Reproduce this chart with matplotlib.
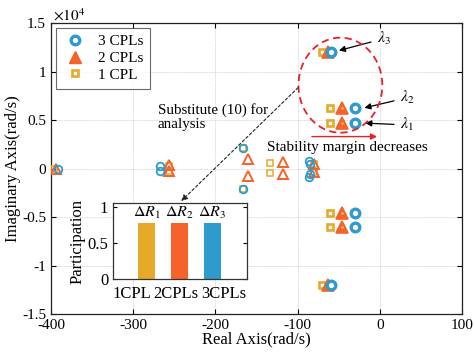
import matplotlib
matplotlib.use("Agg")
import matplotlib.pyplot as plt
from matplotlib.patches import Ellipse
from matplotlib.ticker import FuncFormatter
import numpy as np

plt.rcParams['font.family'] = ['Liberation Serif', 'DejaVu Serif']
plt.rcParams['mathtext.fontset'] = 'stix'

BLUE = '#2f9bcd'
ORANGE = '#f5622a'
YELLOW = '#e6a92a'

# Dominant (highlighted) eigenvalues: real (rad/s), imag (rad/s)
c3_big_re = [-30, -30, -59, -30, -30, -59]
c3_big_im = [4700, 6200, 12000, -4600, -6050, -12050]
c2_big_re = [-46, -46, -63, -46, -46, -63]
c2_big_im = [4700, 6200, 12000, -4600, -6050, -12050]
c1_big_re = [-61, -61, -70, -61, -61, -70]
c1_big_im = [4700, 6200, 12000, -4600, -6050, -12050]

# Other eigenvalues
c3_re = [-391, -268, -268, -166, -166, -86, -86, -85, -85]
c3_im = [0, 300, -300, 2150, -2100, 800, -900, 500, -550]
c2_re = [-394, -257, -257, -160, -160, -118, -118, -80, -80]
c2_im = [0, 350, -250, 1000, -800, 650, -550, 500, -350]
c1_re = [-396, -257, -257, -166, -166, -134, -134, -80, -80]
c1_im = [0, 300, -300, 2150, -2100, 550, -450, 450, -350]

# Inset: participation
inset_cats = ['1CPL', '2CPLs', '3CPLs']
inset_vals = [0.77, 0.77, 0.77]
inset_tags = [r'$\Delta R_1$', r'$\Delta R_2$', r'$\Delta R_3$']

fig = plt.figure(figsize=(4.74, 3.56), dpi=100)
ax = fig.add_axes([0.1076, 0.118, 0.8672, 0.817])

# small hollow markers
ax.plot(c1_re, c1_im, 's', ls='none', mfc='none', mec=YELLOW, ms=4.5, mew=1.1, zorder=3)
ax.plot(c2_re, c2_im, '^', ls='none', mfc='none', mec=ORANGE, ms=6.5, mew=1.4, zorder=3)
ax.plot(c3_re, c3_im, 'o', ls='none', mfc='none', mec=BLUE, ms=5.5, mew=1.3, zorder=3)

# big highlighted markers
ax.plot(c1_big_re, c1_big_im, 's', ls='none', mfc='white', mec=YELLOW, ms=5, mew=1.9, zorder=4)
ax.plot(c2_big_re, c2_big_im, '^', ls='none', mfc=ORANGE, mec=ORANGE, ms=8, mew=1.2, zorder=5)
ax.plot(c2_big_re, c2_big_im, '.', ls='none', color='#f7b070', ms=2, zorder=6)
ax.plot(c3_big_re, c3_big_im, 'o', ls='none', mfc='white', mec=BLUE, ms=6.2, mew=2.4, zorder=7)

# legend handles
h3, = ax.plot([], [], 'o', mfc='white', mec=BLUE, ms=6.2, mew=2.4, label='3 CPLs')
h2, = ax.plot([], [], '^', mfc=ORANGE, mec=ORANGE, ms=8, label='2 CPLs')
h1, = ax.plot([], [], 's', mfc='white', mec=YELLOW, ms=5, mew=1.9, label='1 CPL')
leg = ax.legend(handles=[h3, h2, h1], loc='upper left', fontsize=11, frameon=True,
                fancybox=False, edgecolor='#444444', borderpad=0.45, handletextpad=0.6,
                labelspacing=0.2, borderaxespad=0.3, handlelength=1.7)
leg.get_frame().set_linewidth(0.8)

ax.set_xlim(-400, 100)
ax.set_ylim(-15000, 15000)
ax.set_xticks(np.arange(-400, 101, 100))
ax.set_yticks(np.arange(-15000, 15001, 5000))
ax.xaxis.set_major_formatter(FuncFormatter(lambda v, p: '%g' % v))
ax.yaxis.set_major_formatter(FuncFormatter(lambda v, p: '%g' % (v / 1e4)))
ax.tick_params(direction='in', length=3.5, width=0.8, top=True, right=True, labelsize=11)
ax.grid(True, color='#d8d8d8', lw=0.6, ls=(0, (2, 1)))
ax.set_axisbelow(True)
for s in ax.spines.values():
    s.set_linewidth(0.9)
    s.set_color('#222222')
ax.set_xlabel('Real Axis(rad/s)', fontsize=12, labelpad=0)
ax.set_ylabel('Imaginary Axis(rad/s)', fontsize=12, labelpad=1)
ax.text(0.005, 1.0, r'$\times10^{4}$', transform=ax.transAxes, fontsize=11,
        va='bottom', ha='left')

# red dashed ellipse
ell = Ellipse((-48, 8600), 102, 9800, fill=False, ec='#e8202a', lw=1.3, ls=(0, (4, 2.5)), zorder=8)
ax.add_patch(ell)

# red arrow
ax.annotate('', xy=(0, 3300), xytext=(-86, 3300),
            arrowprops=dict(arrowstyle='-|>', color='#e8202a', lw=1.0, mutation_scale=9))
ax.text(-137, 2200, 'Stability margin decreases', fontsize=11, va='center', ha='left')

# lambda labels
arrow_k = dict(arrowstyle='-|>', color='black', lw=0.9, mutation_scale=9)
ax.annotate(r'$\lambda_3$', xy=(-53, 12100), xytext=(-4, 13400), fontsize=11.5,
            va='center', ha='left', arrowprops=arrow_k)
ax.annotate(r'$\lambda_2$', xy=(-22, 6200), xytext=(24, 7300), fontsize=11.5,
            va='center', ha='left', arrowprops=arrow_k)
ax.annotate(r'$\lambda_1$', xy=(-21, 4700), xytext=(24, 4500), fontsize=11.5,
            va='center', ha='left', arrowprops=arrow_k)

ax.text(-270, 5300, 'Substitute (10) for\nanalysis', fontsize=10.8, va='center', ha='left',
        linespacing=1.15)

# dotted black arrow to inset
ax.annotate('', xy=(-244, -3550), xytext=(-97, 8550),
            arrowprops=dict(arrowstyle='-|>', color='#222222', lw=0.8, ls=(0, (2.5, 2)),
                            mutation_scale=9), zorder=9)

# inset
ins = fig.add_axes([0.2384, 0.2157, 0.2827, 0.2135])
xpos = np.arange(len(inset_cats))
cols = [YELLOW, ORANGE, BLUE]
ins.bar(xpos, inset_vals, width=0.52, color=cols)
for xi, v, t in zip(xpos, inset_vals, inset_tags):
    ins.text(xi, v + 0.03, t, ha='center', va='bottom', fontsize=11.5)
ins.set_xlim(-1.03, 3.05)
ins.set_ylim(0, 1.05)
label_shift = [-0.47, -0.11, 0.33]
ins.set_xticks(xpos + np.array(label_shift))
ins.set_xticklabels(inset_cats, fontsize=12)
ins.set_yticks([0, 0.5, 1])
ins.yaxis.set_major_formatter(FuncFormatter(lambda v, p: '%g' % v))
ins.tick_params(axis='y', direction='in', length=3, right=True, labelsize=12)
ins.tick_params(axis='x', length=0, pad=5)
ins.set_ylabel('Participation', fontsize=12, labelpad=1)
for s in ins.spines.values():
    s.set_linewidth(0.9)
    s.set_color('#333333')

fig.savefig('out.png', dpi=100)
